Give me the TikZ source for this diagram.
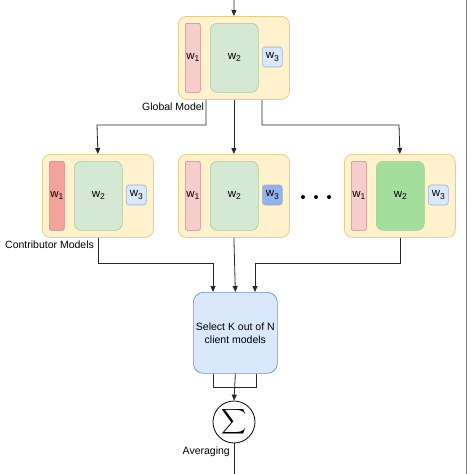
\documentclass[tikz,border=0pt]{standalone}
\usepackage{fontspec}
\setmainfont{Liberation Sans}
\usetikzlibrary{arrows.meta}
\definecolor{contfill}{HTML}{FFF2CC}
\definecolor{contdraw}{HTML}{E3CF8C}
\definecolor{redfill}{HTML}{F8CECC}
\definecolor{reddraw}{HTML}{B85450}
\definecolor{redstrong}{HTML}{F4A29C}
\definecolor{grnfill}{HTML}{D5E8D4}
\definecolor{grndraw}{HTML}{82B366}
\definecolor{grnstrong}{HTML}{A3DE9C}
\definecolor{blufill}{HTML}{DAE8FC}
\definecolor{bludraw}{HTML}{6C8EBF}
\definecolor{blustrong}{HTML}{94B2EE}
\newcommand{\wlab}[1]{w\raisebox{-0.35ex}{\fontsize{8.5}{8.5}\selectfont #1}}
\tikzset{
  contbox/.style={draw=contdraw, fill=contfill, rounded corners=8pt, line width=0.8pt, minimum width=111pt, minimum height=83pt, inner sep=0pt, anchor=north west},
  wone/.style={draw=reddraw!70, fill=redfill, rounded corners=2pt, line width=0.6pt, minimum width=15pt, minimum height=69pt, inner sep=0pt, anchor=north west, font=\fontsize{11.5}{11.5}\selectfont},
  wtwo/.style={draw=grndraw!70, fill=grnfill, rounded corners=7pt, line width=0.6pt, minimum width=48pt, minimum height=69pt, inner sep=0pt, anchor=north west, font=\fontsize{11.5}{11.5}\selectfont},
  wthree/.style={draw=bludraw!70, fill=blufill, rounded corners=3pt, line width=0.6pt, minimum width=20pt, minimum height=20pt, inner sep=0pt, anchor=west, font=\fontsize{11.5}{11.5}\selectfont},
  conn/.style={draw=black!85, line width=0.8pt},
  arr/.style={conn, -{Triangle[length=6pt,width=5pt]}},
  lbl/.style={font=\fontsize{10.5}{10.5}\selectfont, inner sep=0pt}
}
\begin{document}
\begin{tikzpicture}[x=1pt,y=-1pt]
\useasboundingbox (0,0) rectangle (474,474);
\draw[black!50, line width=0.8pt] (466,0) -- (466,474);
% global model
\node[contbox] (g) at (178,16) {};
\node[wone] (g1) at (185,23) {\wlab{1}};
\node[wtwo] (g2) at (210,23) {\wlab{2}};
\node[wthree] (g3) at (262,57) {\wlab{3}};
\node[lbl, anchor=base west] (gl) at (142,110) {Global Model};
% contributors
\node[contbox] (c1) at (42,154) {};
\node[wone, fill=redstrong] (c11) at (49,161) {\wlab{1}};
\node[wtwo] (c12) at (74,161) {\wlab{2}};
\node[wthree] (c13) at (126,195) {\wlab{3}};
\node[contbox] (c2) at (178,154) {};
\node[wone] (c21) at (185,161) {\wlab{1}};
\node[wtwo] (c22) at (210,161) {\wlab{2}};
\node[wthree, fill=blustrong] (c23) at (262,195) {\wlab{3}};
\node[contbox] (c3) at (344,154) {};
\node[wone] (c31) at (351,161) {\wlab{1}};
\node[wtwo, fill=grnstrong] (c32) at (376,161) {\wlab{2}};
\node[wthree] (c33) at (428,195) {\wlab{3}};
\foreach \i/\x in {1/303,2/316,3/329} \fill (\x,197) circle (2pt) coordinate (d\i);
\node[lbl, anchor=base west] (cl) at (5,248) {Contributor Models};
% select box
\node[draw=bludraw, fill=blufill, rounded corners=10pt, line width=0.7pt, minimum width=84pt, minimum height=81pt, inner sep=0pt, anchor=north west, align=center, font=\fontsize{10.5}{13}\selectfont] (s) at (193,292) {Select K out of N\\client models};
% sum
\node[draw, circle, line width=0.8pt, minimum size=42pt, inner sep=0pt] (sum) at (234,422) {};
\node[inner sep=0pt, scale=1.75] (sig) at (234,422) {$\displaystyle\sum$};
\node[lbl, anchor=base east] (al) at (230,454) {Averaging};
% coordinates
\coordinate (top) at (234,0);
\coordinate (bot) at (234,474);
% connectors
\draw[arr] (top) -- (g.north);
\draw[arr] (g.south -| 206,0) |- (97,125) -- (c1.north);
\draw[arr] (g.south) -- (c2.north);
\draw[arr] (g.south -| 262,0) |- (399,125) -- (c3.north);
\draw[arr] (c1.south) |- (213,263) -- (s.north -| 213,0);
\draw[arr] (c2.south) -- (s.north);
\draw[arr] (c3.south) |- (255,263) -- (s.north -| 255,0);
\draw[conn] (s.south -| 213,0) |- (256,387) -- (s.south -| 256,0);
\draw[arr] (s.south) -- (sum.north);
\draw[conn] (sum.south) -- (bot);
\end{tikzpicture}
\end{document}
